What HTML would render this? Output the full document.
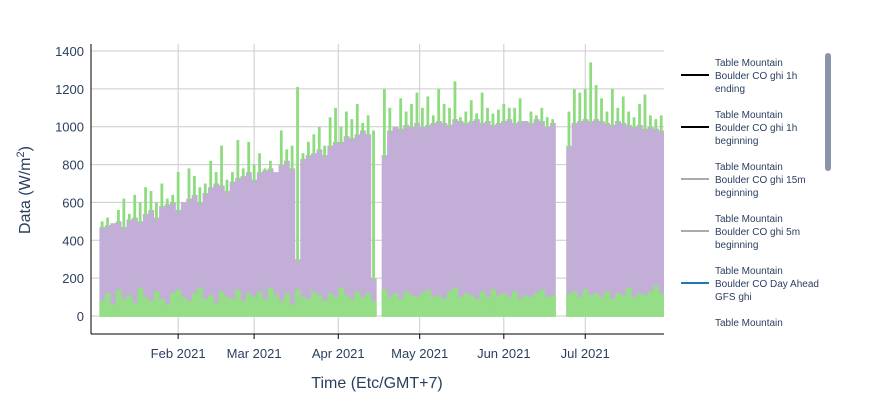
<!DOCTYPE html>
<html><head><meta charset="utf-8"><style>
body{margin:0;background:#fff;font-family:"Liberation Sans",sans-serif;}
svg text{font-family:"Liberation Sans",sans-serif;fill:#2a3f5f;}
</style></head><body>
<svg id="chart" width="869" height="415" xmlns="http://www.w3.org/2000/svg">
<defs><clipPath id="pc"><rect x="91" y="44" width="573" height="290"/></clipPath></defs>
<g id="grid"></g>
<g id="marks" clip-path="url(#pc)"></g>
<g id="axes"></g>
<text transform="translate(30,190) rotate(-90)" text-anchor="middle" font-size="16">Data (W/m<tspan dy="-6" font-size="11">2</tspan><tspan dy="6">)</tspan></text>
<text x="377" y="388" text-anchor="middle" font-size="16">Time (Etc/GMT+7)</text>
<g id="legend"></g>
<rect x="825" y="53" width="6" height="118" rx="3" fill="#8a94ab"/>
</svg>
<script>
const yTicks=[0,200,400,600,800,1000,1200,1400];
const xTickLabels=["Feb 2021","Mar 2021","Apr 2021","May 2021","Jun 2021","Jul 2021"];
const xTickDays=[31,59,90,120,151,181];
const startDay=3, stepDays=2;
const purpleMax=[470,480,490,500,470,510,520,500,540,560,520,580,590,600,
560,600,620,640,600,650,680,700,690,660,710,730,740,760,
720,760,770,780,760,800,820,780,300,830,850,860,880,850,900,920,
920,950,940,960,980,960,200,0,850,980,1000,990,1010,1000,1020,
1000,1010,1020,1030,1020,1010,1040,1030,1020,1030,1040,1020,1030,1010,1020,
1030,1040,1020,1030,1030,1020,1040,1030,1000,1020,0,0,900,1020,1030,
1040,1030,1040,1030,1020,1010,1030,1020,1010,1000,1010,990,1000,990,980,1000];
const greenMax=[500,520,490,560,620,540,640,600,680,660,600,700,620,640,
760,600,780,740,680,700,820,760,900,720,760,930,780,920,
800,860,780,820,760,980,880,900,1210,860,920,960,1000,900,1050,1100,
1000,1080,1040,1120,1020,1060,980,0,1200,1100,1000,1150,1080,1120,1180,
1100,1160,1060,1200,1120,1100,1240,1050,1080,1140,1070,1180,1100,1070,1090,
1120,1100,1100,1150,1030,1080,1060,1100,1050,1040,0,0,1080,1200,1180,
1200,1340,1220,1150,1080,1200,1100,1160,1080,1050,1120,1170,1060,1040,1060,1020];
const greenLow=[80,120,60,140,90,110,70,150,100,80,130,90,60,120,
140,100,80,120,150,90,110,70,130,100,90,140,80,120,
100,130,90,150,110,80,120,60,140,100,90,130,110,80,120,100,
150,110,90,130,100,120,80,0,140,100,120,90,130,110,100,
120,140,100,110,90,130,150,100,120,110,90,130,100,140,110,
120,100,130,90,110,100,120,140,100,110,0,0,120,130,100,
140,110,120,100,130,90,120,110,150,100,120,110,130,160,120,150];
const L=91,R=664,T=44,B=334;
const y=v=>316-v*(265/1400);
const xd=d=>94+d*2.714;
const NS="http://www.w3.org/2000/svg";
function mk(tag,attrs,parent){const e=document.createElementNS(NS,tag);for(const k in attrs)e.setAttribute(k,attrs[k]);parent.appendChild(e);return e;}
const grid=document.getElementById('grid'),marks=document.getElementById('marks'),axes=document.getElementById('axes'),leg=document.getElementById('legend');
yTicks.forEach(t=>{
 const g=mk('line',{x1:L,x2:R,y1:y(t),y2:y(t),stroke:'#cccccc','stroke-width':1},grid);
 
 
 const tx=mk('text',{x:84,y:y(t)+5,'text-anchor':'end','font-size':13},axes);tx.textContent=t;
 
 
});
xTickDays.forEach((d,i)=>{
 const g=mk('line',{x1:xd(d),x2:xd(d),y1:T,y2:B,stroke:'#cccccc','stroke-width':1},grid);
 
 
 const tk=mk('line',{x1:xd(d),x2:xd(d),y1:B,y2:B+5,stroke:'#000','stroke-width':1},axes);
 
 
 const tx=mk('text',{x:xd(d),y:B+24,'text-anchor':'middle','font-size':13},axes);tx.textContent=xTickLabels[i];
 
 
});
const w=stepDays*2.714;
purpleMax.forEach((v,i)=>{
 if(v<=0)return;const x=xd(startDay+i*stepDays);
 const r=mk('rect',{x:x-w/2,y:y(v),width:w+0.4,height:y(0)-y(v),fill:'#c2aed6'},marks);
 
 
});
greenMax.forEach((v,i)=>{
 if(v<=0)return;const x=xd(startDay+i*stepDays);
 const b=mk('rect',{x:x-w/2,y:y(greenLow[i]),width:w+0.4,height:y(-5)-y(greenLow[i]),fill:'#96dd88'},marks);
 
 
 const top=Math.max(purpleMax[i],greenLow[i]);
 if(v>top){
  const l=mk('rect',{x:x-1.4,y:y(v),width:2.8,height:y(top)-y(v)+2,fill:'#8fdc80'},marks);
  
  
 }
});
const al=mk('line',{x1:L,x2:L,y1:T,y2:B,stroke:'#000'},axes);


const bl=mk('line',{x1:L,x2:R,y1:B,y2:B,stroke:'#000'},axes);


const legendNames=[["Table Mountain","Boulder CO ghi 1h","ending"],["Table Mountain","Boulder CO ghi 1h","beginning"],["Table Mountain","Boulder CO ghi 15m","beginning"],["Table Mountain","Boulder CO ghi 5m","beginning"],["Table Mountain","Boulder CO Day Ahead","GFS ghi"],["Table Mountain"]];
const legendColors=["#000000","#000000","#aaaaaa","#aaaaaa","#1f77b4",null];
legendNames.forEach((lines,i)=>{
 const top=62+i*52;
 const g=mk('g',{},leg);
 
 
 if(legendColors[i])mk('line',{x1:681,x2:709,y1:top+13,y2:top+13,stroke:legendColors[i],'stroke-width':2},g);
 lines.forEach((s,j)=>{const t=mk('text',{x:715,y:top+4+j*13,'font-size':10},g);t.textContent=s;});
});
</script>
</body></html>
